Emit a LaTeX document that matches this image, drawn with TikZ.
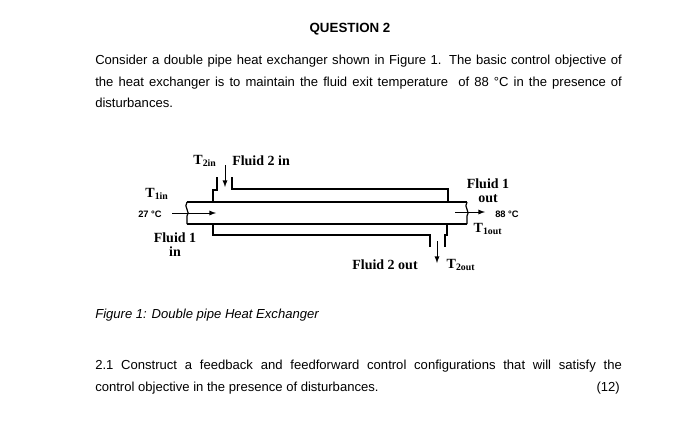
\documentclass[tikz,border=0pt]{standalone}
\usepackage{fontspec}
\setmainfont{Liberation Sans}
\newfontfamily\figfont{Liberation Serif}
\begin{document}
\begin{tikzpicture}[x=0.75pt,y=-0.75pt,
  txt/.style={inner sep=0pt,anchor=base west,font=\fontsize{9.8}{11}\selectfont},
  fl/.style={inner sep=0pt,font=\figfont\bfseries\fontsize{10.5}{10.5}\selectfont,align=center},
  sm/.style={inner sep=0pt,font=\bfseries\fontsize{7}{7}\selectfont},
  pipe/.style={line width=0.9pt},
  arr/.style={-latex,line width=0.7pt}]
\useasboundingbox[fill=white] (0,0) rectangle (700,436);
\node[txt,anchor=base,font=\bfseries\fontsize{10}{11}\selectfont] (q) at (350,32) {QUESTION 2};
\node[txt] (l1) at (95,64) {\makebox[395pt][s]{Consider a double pipe heat exchanger shown in Figure 1. The basic control objective of}};
\node[txt] (l2) at (95,86) {\makebox[395pt][s]{the heat exchanger is to maintain the fluid exit temperature \ of 88 °C in the presence of}};
\node[txt] (l3) at (95,107) {disturbances.};
% pipes
\draw[pipe] (187,202) -- (467,202);
\draw[pipe] (187,224) -- (467,224);
\draw[pipe] (187,202) .. controls (183,207) and (191,212) .. (187,216) -- (187,224);
\draw[pipe] (467,202) .. controls (463,207) and (471,212) .. (467,216) -- (467,224);
\draw[pipe] (217,177) -- (217,190) -- (213,190) -- (213,202);
\draw[pipe] (232,177) -- (232,189) -- (448,189) -- (448,202);
\draw[pipe] (213,224) -- (213,235) -- (430,235) -- (430,247);
\draw[pipe] (447,224) -- (447,235) -- (445,235) -- (445,247);
\coordinate (a1) at (225,165); \coordinate (a2) at (225,187);
\coordinate (b1) at (172,213); \coordinate (b2) at (216,213);
\coordinate (c1) at (455,212); \coordinate (c2) at (485,212);
\coordinate (d1) at (437,241); \coordinate (d2) at (437,263);
\draw[arr] (a1) -- (a2);
\draw[arr] (b1) -- (b2);
\draw[arr] (c1) -- (c2);
\draw[arr] (d1) -- (d2);
\node[fl] (t2in) at (205,161) {T\textsubscript{2in}};
\node[fl,anchor=west] (f2in) at (232,161) {Fluid 2 in};
\node[fl] (t1in) at (157,194) {T\textsubscript{1in}};
\node[sm] (c27) at (150,214) {27 °C};
\node[fl] (f1in) at (175,245) {Fluid 1\\in};
\node[fl] (f1out) at (488,191) {Fluid 1\\out};
\node[sm] (c88) at (507,214) {88 °C};
\node[fl] (t1out) at (488,229) {T\textsubscript{1out}};
\node[fl] (f2out) at (385,265) {Fluid 2 out};
\node[fl] (t2out) at (461,265) {T\textsubscript{2out}};
\node[txt,font=\itshape\fontsize{9.8}{11}\selectfont] (cap) at (95,318) {Figure 1: Double pipe Heat Exchanger};
\node[txt] (b1t) at (95,369) {\makebox[395pt][s]{2.1 Construct a feedback and feedforward control configurations that will satisfy the}};
\node[txt] (b2t) at (95,391) {control objective in the presence of disturbances.};
\node[txt,anchor=base east] (pts) at (620,391) {(12)};
\end{tikzpicture}
\end{document}
